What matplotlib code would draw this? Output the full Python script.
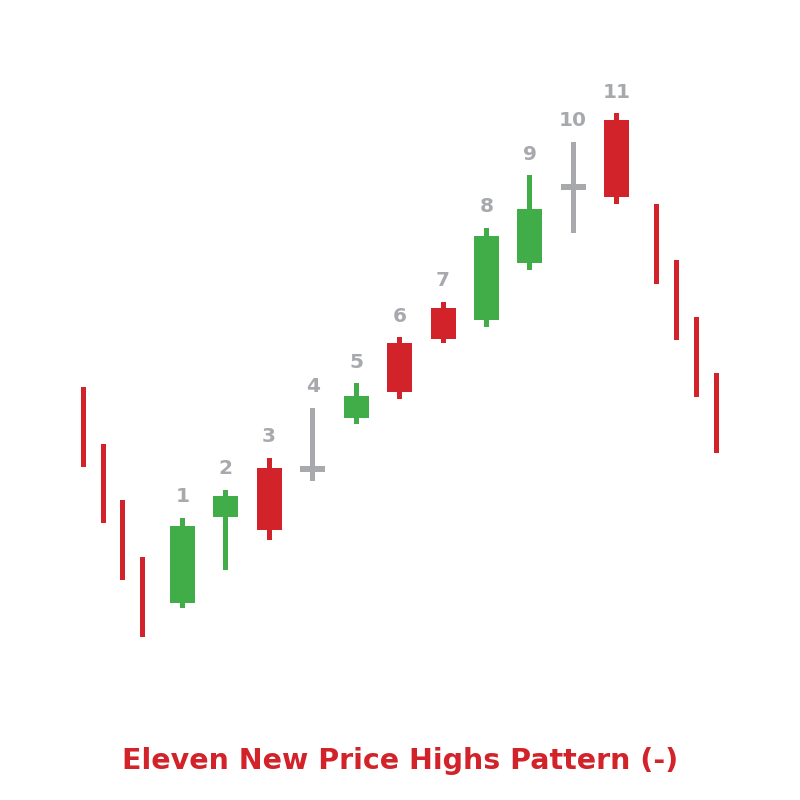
import matplotlib.pyplot as plt

RED = '#d2232a'
GREEN = '#40ad48'
GRAY = '#a7a9ac'

# downtrend lines before and after the pattern (price units, x in figure px)
left_x = [83, 103, 122.7, 142.6]
left_high = [413, 356, 300, 243]
left_low = [333, 277, 220, 163]

right_x = [656.8, 676.8, 696.7, 716.7]
right_high = [596, 540, 483, 427]
right_low = [516, 460, 403, 347]

# the eleven candles
labels = ['1', '2', '3', '4', '5', '6', '7', '8', '9', '10', '11']
candle_x = [182.5, 225.5, 269, 312.7, 356.5, 399.5, 443, 486.5, 529.8, 573, 616.5]
opens = [197, 283, 332, 331, 382, 457, 492, 480, 537, 613, 680]
closes = [274, 304, 270, 331, 404, 408, 461, 564, 591, 613, 603]
highs = [282, 310, 342, 392, 417, 463, 498, 572, 625, 658, 687]
lows = [192, 230, 260, 319, 376, 401, 457, 473, 530, 567, 596]

fig = plt.figure(figsize=(8, 8), dpi=100)
ax = fig.add_axes([0, 0, 1, 1])
ax.set_xlim(0, 800)
ax.set_ylim(0, 800)
ax.axis('off')

for x, hi, lo in zip(left_x + right_x, left_high + right_high, left_low + right_low):
    ax.bar(x, hi - lo, bottom=lo, width=5, color=RED, linewidth=0)

for x, o, c, hi, lo, lab in zip(candle_x, opens, closes, highs, lows, labels):
    if o == c:
        col = GRAY
        ax.bar(x, hi - lo, bottom=lo, width=5, color=col, linewidth=0)
        ax.bar(x, 5.5, bottom=o - 2.75, width=25, color=col, linewidth=0)
    else:
        col = GREEN if c > o else RED
        ax.bar(x, hi - lo, bottom=lo, width=5, color=col, linewidth=0)
        ax.bar(x, abs(c - o), bottom=min(o, c), width=25, color=col, linewidth=0)
    ax.text(x, hi + 21, lab, ha='center', va='center', fontsize=14.5,
            fontweight='bold', color=GRAY)

ax.text(400, 39, 'Eleven New Price Highs Pattern (-)', ha='center', va='center',
        fontsize=20.5, fontweight='bold', color=RED)

fig.savefig('out.png', dpi=100, facecolor='white')
